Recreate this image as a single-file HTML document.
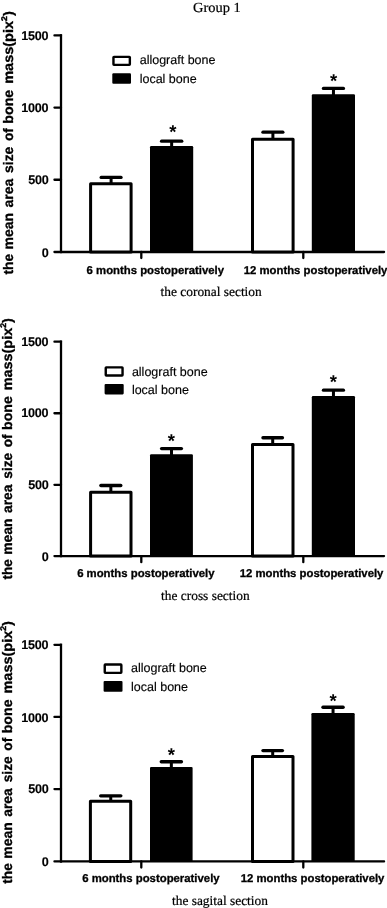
<!DOCTYPE html>
<html><head><meta charset="utf-8"><title>Group 1</title>
<style>
html,body{margin:0;padding:0;background:#fff;}
body{width:387px;height:908px;overflow:hidden;}
svg{display:block;}
text{text-rendering:geometricPrecision;}
.tk{font-family:'Liberation Sans', Arial, Helvetica, sans-serif;font-weight:bold;font-size:12.6px;stroke:#000;stroke-width:0.15px;letter-spacing:-0.25px;}
.xl{font-family:'Liberation Sans', Arial, Helvetica, sans-serif;font-weight:bold;font-size:11.35px;stroke:#000;stroke-width:0.3px;}
.lg{font-family:'Liberation Sans', Arial, Helvetica, sans-serif;font-size:12.5px;stroke:#000;stroke-width:0.15px;}
.cp{font-family:'Liberation Serif', 'Times New Roman', Times, serif;font-size:13.4px;stroke:#000;stroke-width:0.2px;}
.ti{font-family:'Liberation Serif', 'Times New Roman', Times, serif;font-size:14px;stroke:#000;stroke-width:0.2px;}
.yl{font-family:'Liberation Sans', Arial, Helvetica, sans-serif;font-weight:bold;font-size:13.8px;stroke:#000;stroke-width:0.3px;}
.st{font-family:'Liberation Sans', Arial, Helvetica, sans-serif;font-weight:bold;font-size:18.5px;}
</style></head>
<body>
<svg width="387" height="908" viewBox="0 0 387 908">
<rect width="387" height="908" fill="#fff"/>
<text x="193" y="11.7" class="ti" textLength="47.8" lengthAdjust="spacingAndGlyphs">Group 1</text>
<path d="M61 34.2V253.15" stroke="#000" stroke-width="2.3" fill="none"/>
<path d="M54.45 35.4H61" stroke="#000" stroke-width="2.3" stroke-linecap="round"/>
<text x="48.4" y="39.5" text-anchor="end" class="tk">1500</text>
<path d="M54.45 107.6H61" stroke="#000" stroke-width="2.3" stroke-linecap="round"/>
<text x="48.4" y="112.3" text-anchor="end" class="tk">1000</text>
<path d="M54.45 179.75H61" stroke="#000" stroke-width="2.3" stroke-linecap="round"/>
<text x="48.4" y="184.1" text-anchor="end" class="tk">500</text>
<path d="M54.45 252H61" stroke="#000" stroke-width="2.3" stroke-linecap="round"/>
<text x="48.4" y="256.5" text-anchor="end" class="tk">0</text>
<path d="M61 252H384.05" stroke="#000" stroke-width="2.3" stroke-linecap="round"/>
<path d="M141.3 252V258.1" stroke="#000" stroke-width="2.3" stroke-linecap="round"/>
<path d="M303.3 252V258.1" stroke="#000" stroke-width="2.3" stroke-linecap="round"/>
<rect x="90.6" y="183.7" width="40.5" height="68.3" fill="#fff" stroke="#000" stroke-linejoin="round" stroke-width="3"/>
<path d="M111.1 177.45V183.2" stroke="#000" stroke-width="3"/>
<path d="M101.15 177.45H121.05" stroke="#000" stroke-width="3.3" stroke-linecap="round"/>
<rect x="150" y="146.1" width="43.2" height="105.9" rx="1.2" fill="#000"/>
<path d="M171.65 141.2V147.1" stroke="#000" stroke-width="3"/>
<path d="M161.55 141.2H181.75" stroke="#000" stroke-width="3.3" stroke-linecap="round"/>
<rect x="252.5" y="139.3" width="40.6" height="112.7" fill="#fff" stroke="#000" stroke-linejoin="round" stroke-width="3"/>
<path d="M272.9 132.15V138.8" stroke="#000" stroke-width="3"/>
<path d="M262.95 132.15H282.85" stroke="#000" stroke-width="3.3" stroke-linecap="round"/>
<rect x="311.8" y="94.3" width="43.2" height="157.7" rx="1.2" fill="#000"/>
<path d="M333.45 88.45V95.3" stroke="#000" stroke-width="3"/>
<path d="M323.45 88.45H343.45" stroke="#000" stroke-width="3.3" stroke-linecap="round"/>
<text x="172.8" y="137.95" text-anchor="middle" class="st">*</text>
<text x="333.7" y="87.05" text-anchor="middle" class="st">*</text>
<text x="86.6" y="273.6" class="xl">6 months postoperatively</text>
<text x="243.7" y="273.6" class="xl">12 months postoperatively</text>
<rect x="113.45" y="56.85" width="16.4" height="8" rx="0.5" fill="#fff" stroke="#000" stroke-width="2.4"/>
<rect x="112.3" y="73.3" width="18.7" height="10.5" rx="1.1" fill="#000"/>
<text x="139.7" y="64.4" class="lg">allograft bone</text>
<text x="139.7" y="82.7" class="lg">local bone</text>
<text x="160.6" y="295.8" class="cp">the coronal section</text>
<text transform="translate(12.7 274.5) rotate(-90)" y="0" class="yl"><tspan x="0" textLength="20.5" lengthAdjust="spacingAndGlyphs">the</tspan> <tspan x="25" textLength="36.55" lengthAdjust="spacingAndGlyphs">mean</tspan> <tspan x="67.1" textLength="28.6" lengthAdjust="spacingAndGlyphs">area</tspan> <tspan x="101.6" textLength="26.2" lengthAdjust="spacingAndGlyphs">size</tspan> <tspan x="133.4" textLength="12.9" lengthAdjust="spacingAndGlyphs">of</tspan> <tspan x="150.8" textLength="34" lengthAdjust="spacingAndGlyphs">bone</tspan> <tspan x="190.7" textLength="62.9" lengthAdjust="spacingAndGlyphs">mass(pix</tspan><tspan font-size="8.28" dy="-6" stroke-width="0.45" textLength="4.8" lengthAdjust="spacingAndGlyphs">2</tspan><tspan dy="6" textLength="4.9" lengthAdjust="spacingAndGlyphs">)</tspan></text>
<path d="M61 340.5V557.2" stroke="#000" stroke-width="2.3" fill="none"/>
<path d="M54.45 341.7H61" stroke="#000" stroke-width="2.3" stroke-linecap="round"/>
<text x="48.4" y="345.7" text-anchor="end" class="tk">1500</text>
<path d="M54.45 413.25H61" stroke="#000" stroke-width="2.3" stroke-linecap="round"/>
<text x="48.4" y="417.1" text-anchor="end" class="tk">1000</text>
<path d="M54.45 484.8H61" stroke="#000" stroke-width="2.3" stroke-linecap="round"/>
<text x="48.4" y="489.1" text-anchor="end" class="tk">500</text>
<path d="M54.45 556.05H61" stroke="#000" stroke-width="2.3" stroke-linecap="round"/>
<text x="48.4" y="561.3" text-anchor="end" class="tk">0</text>
<path d="M61 556.05H384.05" stroke="#000" stroke-width="2.3" stroke-linecap="round"/>
<path d="M141.3 556.05V562.15" stroke="#000" stroke-width="2.3" stroke-linecap="round"/>
<path d="M303.3 556.05V562.15" stroke="#000" stroke-width="2.3" stroke-linecap="round"/>
<rect x="90.6" y="492.3" width="40.4" height="63.75" fill="#fff" stroke="#000" stroke-linejoin="round" stroke-width="3"/>
<path d="M110.85 485.5V491.8" stroke="#000" stroke-width="3"/>
<path d="M100.85 485.5H120.85" stroke="#000" stroke-width="3.3" stroke-linecap="round"/>
<rect x="150" y="454.3" width="42.9" height="101.75" rx="1.2" fill="#000"/>
<path d="M171.5 448.55V455.3" stroke="#000" stroke-width="3"/>
<path d="M161.55 448.55H181.45" stroke="#000" stroke-width="3.3" stroke-linecap="round"/>
<rect x="252.5" y="444.6" width="40.5" height="111.45" fill="#fff" stroke="#000" stroke-linejoin="round" stroke-width="3"/>
<path d="M272.7 437.75V444.1" stroke="#000" stroke-width="3"/>
<path d="M262.95 437.75H282.45" stroke="#000" stroke-width="3.3" stroke-linecap="round"/>
<rect x="311.8" y="396" width="43.2" height="160.05" rx="1.2" fill="#000"/>
<path d="M333.45 390.15V397" stroke="#000" stroke-width="3"/>
<path d="M323.45 390.15H343.45" stroke="#000" stroke-width="3.3" stroke-linecap="round"/>
<text x="171.3" y="446.55" text-anchor="middle" class="st">*</text>
<text x="333.4" y="387.85" text-anchor="middle" class="st">*</text>
<text x="77.15" y="577.4" class="xl">6 months postoperatively</text>
<text x="239.7" y="577.4" class="xl">12 months postoperatively</text>
<rect x="105.75" y="367.35" width="16.8" height="8.2" rx="0.5" fill="#fff" stroke="#000" stroke-width="2.4"/>
<rect x="104.6" y="384" width="19.1" height="10.4" rx="1.1" fill="#000"/>
<text x="131.9" y="375.9" class="lg">allograft bone</text>
<text x="131.9" y="393.5" class="lg">local bone</text>
<text x="161.1" y="599.8" class="cp">the cross section</text>
<text transform="translate(12.1 579.6) rotate(-90)" y="0" class="yl"><tspan x="0" textLength="20.35" lengthAdjust="spacingAndGlyphs">the</tspan> <tspan x="24.82" textLength="36.29" lengthAdjust="spacingAndGlyphs">mean</tspan> <tspan x="66.62" textLength="28.39" lengthAdjust="spacingAndGlyphs">area</tspan> <tspan x="100.87" textLength="26.01" lengthAdjust="spacingAndGlyphs">size</tspan> <tspan x="132.44" textLength="12.81" lengthAdjust="spacingAndGlyphs">of</tspan> <tspan x="149.71" textLength="33.75" lengthAdjust="spacingAndGlyphs">bone</tspan> <tspan x="189.32" textLength="62.45" lengthAdjust="spacingAndGlyphs">mass(pix</tspan><tspan font-size="8.28" dy="-6" stroke-width="0.45" textLength="4.77" lengthAdjust="spacingAndGlyphs">2</tspan><tspan dy="6" textLength="4.86" lengthAdjust="spacingAndGlyphs">)</tspan></text>
<path d="M61 643.6V862.55" stroke="#000" stroke-width="2.3" fill="none"/>
<path d="M54.45 644.8H61" stroke="#000" stroke-width="2.3" stroke-linecap="round"/>
<text x="48.4" y="648.5" text-anchor="end" class="tk">1500</text>
<path d="M54.45 716.95H61" stroke="#000" stroke-width="2.3" stroke-linecap="round"/>
<text x="48.4" y="721.5" text-anchor="end" class="tk">1000</text>
<path d="M54.45 789.1H61" stroke="#000" stroke-width="2.3" stroke-linecap="round"/>
<text x="48.4" y="793.1" text-anchor="end" class="tk">500</text>
<path d="M54.45 861.4H61" stroke="#000" stroke-width="2.3" stroke-linecap="round"/>
<text x="48.4" y="866.1" text-anchor="end" class="tk">0</text>
<path d="M61 861.4H384.05" stroke="#000" stroke-width="2.3" stroke-linecap="round"/>
<path d="M141.3 861.4V867.5" stroke="#000" stroke-width="2.3" stroke-linecap="round"/>
<path d="M303.3 861.4V867.5" stroke="#000" stroke-width="2.3" stroke-linecap="round"/>
<rect x="90.4" y="801.2" width="40.3" height="60.2" fill="#fff" stroke="#000" stroke-linejoin="round" stroke-width="3"/>
<path d="M110.75 795.8V800.7" stroke="#000" stroke-width="3"/>
<path d="M100.65 795.8H120.85" stroke="#000" stroke-width="3.3" stroke-linecap="round"/>
<rect x="150" y="766.9" width="42.6" height="94.5" rx="1.2" fill="#000"/>
<path d="M171.35 761.75V767.9" stroke="#000" stroke-width="3"/>
<path d="M161.25 761.75H181.45" stroke="#000" stroke-width="3.3" stroke-linecap="round"/>
<rect x="252.5" y="756.4" width="40.5" height="105" fill="#fff" stroke="#000" stroke-linejoin="round" stroke-width="3"/>
<path d="M272.7 750.6V755.9" stroke="#000" stroke-width="3"/>
<path d="M262.95 750.6H282.45" stroke="#000" stroke-width="3.3" stroke-linecap="round"/>
<rect x="311.4" y="713" width="43.3" height="148.4" rx="1.2" fill="#000"/>
<path d="M333.05 707.25V714" stroke="#000" stroke-width="3"/>
<path d="M322.95 707.25H343.15" stroke="#000" stroke-width="3.3" stroke-linecap="round"/>
<text x="171.4" y="761.45" text-anchor="middle" class="st">*</text>
<text x="333.2" y="707.05" text-anchor="middle" class="st">*</text>
<text x="82.2" y="882.2" class="xl">6 months postoperatively</text>
<text x="240.7" y="882.2" class="xl">12 months postoperatively</text>
<rect x="104.75" y="664.55" width="16.6" height="8.3" rx="0.5" fill="#fff" stroke="#000" stroke-width="2.4"/>
<rect x="103.6" y="680.9" width="18.9" height="10.9" rx="1.1" fill="#000"/>
<text x="131" y="672.4" class="lg">allograft bone</text>
<text x="131" y="690.7" class="lg">local bone</text>
<text x="172" y="904.8" class="cp">the sagital section</text>
<text transform="translate(12.4 883.7) rotate(-90)" y="0" class="yl"><tspan x="0" textLength="20.45" lengthAdjust="spacingAndGlyphs">the</tspan> <tspan x="24.93" textLength="36.45" lengthAdjust="spacingAndGlyphs">mean</tspan> <tspan x="66.92" textLength="28.52" lengthAdjust="spacingAndGlyphs">area</tspan> <tspan x="101.33" textLength="26.13" lengthAdjust="spacingAndGlyphs">size</tspan> <tspan x="133.05" textLength="12.87" lengthAdjust="spacingAndGlyphs">of</tspan> <tspan x="150.4" textLength="33.91" lengthAdjust="spacingAndGlyphs">bone</tspan> <tspan x="190.19" textLength="62.73" lengthAdjust="spacingAndGlyphs">mass(pix</tspan><tspan font-size="8.28" dy="-6" stroke-width="0.45" textLength="4.79" lengthAdjust="spacingAndGlyphs">2</tspan><tspan dy="6" textLength="4.89" lengthAdjust="spacingAndGlyphs">)</tspan></text>
</svg>
</body></html>
